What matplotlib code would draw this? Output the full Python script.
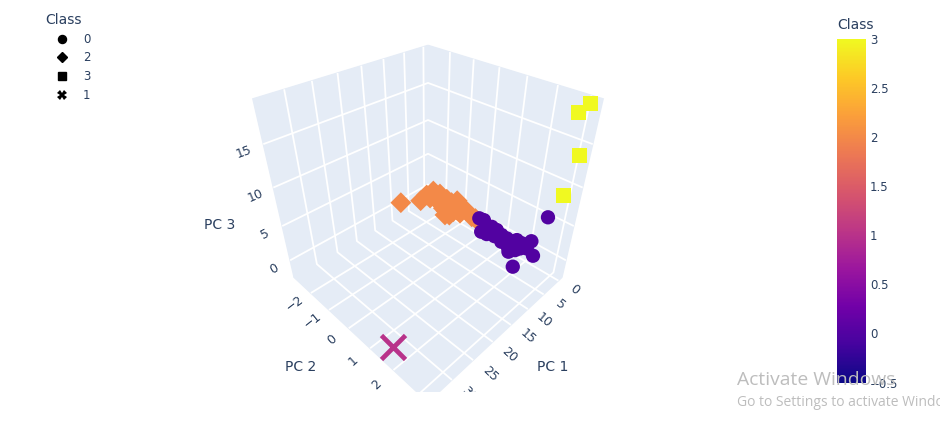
import matplotlib
matplotlib.use('Agg')
import matplotlib.pyplot as plt
from matplotlib.cm import ScalarMappable
from matplotlib.colors import LinearSegmentedColormap, Normalize
from matplotlib.lines import Line2D
from matplotlib.patches import Rectangle

# Define data.
class0_pc1 = [-0.6, -0.8, 2.6, 2.4, -0.2, -0.1, 0.5, 0.6, 0.7, -0.4, -0.3, -0.4, 3.6, 2.3, 1.2, 1.2, 0.3, -0.8, 6.4,
              1.8, 2.2, 2.4, 1.4, 1.8]
class0_pc2 = [-0.21, -0.02, 0.34, 0.56, 0.43, 0.67, 0.97, 1.21, 1.44, 1.51, 1.73, 2.07, 1.67, 1.78, 1.85, 2.37, 2.01, 2.47, 2.21,
              0.83, 1.18, 1.47, 0.56, 1.74]
class0_pc3 = [-0.5, -0.5, -0.5, -0.5, -0.5, -0.5, -0.5, -0.5, -0.5, -0.5, -0.5, 0.5, -0.5, -0.5, -0.5, -0.5, -0.5, 4.7, -0.5,
              -0.5, -0.5, -0.5, -0.5, -0.5]

class2_pc1 = [8.1, 4.5, 2.0, -0.2, -0.4, 0.0, -1.2, 0.0, 1.0, 4.5, 3.9, 1.4, 1.3, 1.8, 3.0, 0.9,
              2.3, 0.2, 0.2, 2.4, 2.3, 0.9, 3.3]
class2_pc2 = [-2.84, -2.40, -2.51, -2.52, -2.19, -1.76, -1.41, -0.92, -0.35, -1.12, -1.00, -1.02, -1.29, -0.80, -1.45, -2.15,
              -2.27, -1.48, -0.74, -1.04, -1.69, -0.19, -1.27]
class2_pc3 = [0.0] * 23

class3_pc1 = [-0.8, -0.8, -0.8, -0.8]
class3_pc2 = [3.05, 2.77, 3.05, 2.82]
class3_pc3 = [18.9, 17.7, 13.5, 8.3]

class1_pc1 = [33.7]
class1_pc2 = [1.72]
class1_pc3 = [-1.0]

pc1_ticks = [0, 5, 10, 15, 20, 25, 30]
pc2_ticks = [-2, -1, 0, 1, 2, 3]
pc3_ticks = [0, 5, 10, 15]
pc1_range = (-1.25, 35.2)
pc2_range = (-3.0, 3.33)
pc3_range = (-2.7, 19.6)

legend_classes = ['0', '2', '3', '1']
colorbar_ticks = [-0.5, 0, 0.5, 1, 1.5, 2, 2.5, 3]
colorbar_labels = ['\u22120.5', '0', '0.5', '1', '1.5', '2', '2.5', '3']
plasma = ['#0d0887', '#46039f', '#7201a8', '#9c179e', '#bd3786',
          '#d8576b', '#ed7953', '#fb9f3a', '#fdca26', '#f0f921']

W, H = 940, 424
TEXT = '#2a3f5f'
PANE = '#E5ECF6'


def fx(px):
    return px / W


def fy(py):
    return 1 - py / H


plt.rcParams['font.family'] = 'DejaVu Sans'
plt.rcParams['grid.color'] = 'white'
plt.rcParams['grid.linewidth'] = 1.3

fig = plt.figure(figsize=(W / 100, H / 100), dpi=100)
cmap = LinearSegmentedColormap.from_list('plasma10', plasma)
norm = Normalize(vmin=-0.5, vmax=3)

# Make plot. The axes is larger than the cube so nothing gets clipped to it.
ax = fig.add_axes([119.9 / W, -84.1 / H, 600 / W, 600 / H], projection='3d',
                  computed_zorder=False)
ax.set_box_aspect((1, 1, 1), zoom=361 / 600)
ax.view_init(elev=35.26, azim=45)
ax.set_proj_type('persp', focal_length=0.1433)
ax.patch.set_alpha(0)

ax.set_xlim(*pc1_range)
ax.set_ylim(*pc2_range)
ax.set_zlim(*pc3_range)
ax.set_xticks(pc1_ticks)
ax.set_yticks(pc2_ticks)
ax.set_zticks(pc3_ticks)
ax.set_xticklabels([])
ax.set_yticklabels([])
ax.set_zticklabels([])

for axis in [ax.xaxis, ax.yaxis, ax.zaxis]:
    axis.set_pane_color(PANE)
    axis.pane.set_edgecolor(PANE)
    axis.line.set_visible(False)
for name in ['x', 'y', 'z']:
    ax.tick_params(axis=name, color=(1, 1, 1, 0))

ax.scatter(class2_pc1, class2_pc2, class2_pc3, c=[2] * len(class2_pc1), cmap=cmap, norm=norm,
           marker='D', s=112, linewidths=0, depthshade=False, zorder=2)
ax.scatter(class0_pc1, class0_pc2, class0_pc3, c=[0] * len(class0_pc1), cmap=cmap, norm=norm,
           marker='o', s=106, linewidths=0, depthshade=False, zorder=3)
ax.scatter(class3_pc1, class3_pc2, class3_pc3, c=[3] * len(class3_pc1), cmap=cmap, norm=norm,
           marker='s', s=117, linewidths=0, depthshade=False, zorder=3)
ax.scatter(class1_pc1, class1_pc2, class1_pc3, c=[1] * len(class1_pc1), cmap=cmap, norm=norm,
           marker='x', s=300, linewidths=3.4, depthshade=False, zorder=3)

# Tick labels sit just outside the cube. 3D text takes its angle from zdir.
for value in pc1_ticks:
    ax.text(value, pc2_range[1] + 0.6, pc3_range[0], str(value), (0, 1, -0.7), color=TEXT, fontsize=9,
            ha='center', va='center')
for value in pc2_ticks:
    label = str(value).replace('-', '\u2212')
    ax.text(pc1_range[1] + 3.5, value, pc3_range[0], label, (-1, 0, 0.1), color=TEXT, fontsize=9,
            ha='center', va='center')
for value in pc3_ticks:
    ax.text(pc1_range[1] + 3.3, pc2_range[0], value, str(value), (-1, 0, 0), color=TEXT, fontsize=9,
            ha='center', va='center')

# The plot area ends above the front corner of the cube.
fig.add_artist(Rectangle((fx(190), 0), fx(520), fy(392), transform=fig.transFigure,
                         facecolor='white', edgecolor='none', zorder=1))

fig.text(fx(553), fy(367), 'PC 1', color=TEXT, fontsize=10, ha='center', va='center', zorder=2)
fig.text(fx(301), fy(367), 'PC 2', color=TEXT, fontsize=10, ha='center', va='center', zorder=2)
fig.text(fx(220), fy(225), 'PC 3', color=TEXT, fontsize=10, ha='center', va='center', zorder=2)

# Legend.
handles = [
    Line2D([], [], linestyle='none', marker='o', color='black', markersize=5.8),
    Line2D([], [], linestyle='none', marker='D', color='black', markersize=5),
    Line2D([], [], linestyle='none', marker='s', color='black', markersize=5.6),
    Line2D([], [], linestyle='none', marker='X', color='black', markersize=6.8, markeredgewidth=0),
]
legend = fig.legend(handles, legend_classes, loc='upper left', bbox_to_anchor=(fx(45), fy(13)),
                    frameon=False, fontsize=8.5, labelcolor=TEXT, title='Class',
                    title_fontproperties={'size': 10}, alignment='left',
                    labelspacing=0.486, handletextpad=0.34, borderpad=0, borderaxespad=0,
                    handlelength=2.88)
legend.get_title().set_color(TEXT)

# Colorbar.
cax = fig.add_axes([fx(837), fy(382.5), 29 / W, 344 / H])
cbar = fig.colorbar(ScalarMappable(norm=norm, cmap=cmap), cax=cax)
cbar.set_ticks(colorbar_ticks)
cbar.set_ticklabels(colorbar_labels)
cbar.outline.set_visible(False)
cax.tick_params(length=0, pad=3, labelsize=8.5, labelcolor=TEXT)
fig.text(fx(855), fy(25), 'Class', color=TEXT, fontsize=10, ha='center', va='center')

# Windows watermark over the picture.
fig.text(fx(737), fy(380), 'Activate Windows', color='#bdbdbd', fontsize=13.9,
         family='Open Sans', ha='left', va='center', zorder=5)
fig.text(fx(737), fy(403), 'Go to Settings to activate Windows.', color='#bdbdbd', fontsize=10,
         family='Open Sans', ha='left', va='center', zorder=5)

fig.savefig('out.png', dpi=100)
